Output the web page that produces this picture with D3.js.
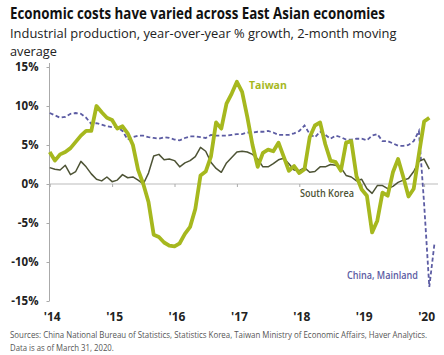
<!DOCTYPE html>
<html>
<head>
<meta charset="utf-8">
<script src="https://cdn.jsdelivr.net/npm/d3@7"></script>
<style>
  html, body { margin: 0; padding: 0; background: #fff; }
  svg { display: block; }
  text { font-family: "Open Sans", "Noto Sans", sans-serif; }
</style>
</head>
<body>
<svg id="chart" width="444" height="355"></svg>
<script>
// ---- Data (monthly, Jan 2014 = index 0) ----
const yearLabels = ["'14", "'15", "'16", "'17", "'18", "'19", "'20"];
const yTicks = [15, 10, 5, 0, -5, -10, -15];

const taiwan = [
  4.1, 3.0, 3.8, 4.1, 4.6, 5.4, 6.2, 6.8, 6.8, 10.0, 9.2, 8.5,
  8.2, 7.1, 7.4, 6.5, 5.0, 1.8, 0.0, -2.3, -6.5, -6.8, -7.5, -7.9,
  -8.0, -7.6, -6.4, -5.5, -3.2, 1.1, 1.6, 3.5, 7.9, 7.1, 10.3, 11.6,
  13.1, 11.8, 8.6, 5.0, 2.2, 4.0, 4.4, 4.2, 5.3, 3.5, 1.7, 2.3,
  1.4, 1.9, 6.0, 7.5, 7.9, 5.1, 3.0, 2.8, 1.7, 5.3, 5.5, 1.0,
  -0.7, -1.5, -6.2, -4.7, -1.1, -1.5, 1.5, 3.2, 0.9, -1.6, -0.6, 3.8,
  8.0, 8.5
];
const korea = [
  2.1, 1.9, 1.8, 2.4, 1.2, 1.6, 2.9, 2.2, 1.3, 0.6, 0.4, 0.9,
  0.3, 0.5, 1.2, 0.8, 0.9, 0.5, 0.0, 1.4, 3.6, 3.8, 3.1, 3.2,
  3.0, 2.2, 2.7, 3.0, 3.5, 4.7, 4.2, 2.8, 2.0, 1.5, 2.7, 3.4,
  4.1, 4.2, 4.1, 3.8, 3.2, 2.2, 2.2, 2.6, 3.1, 3.3, 2.6, 1.8,
  1.7, 2.1, 1.5, 1.6, 2.2, 2.2, 2.5, 2.4, 2.1, 1.1, 0.9, 0.4,
  0.6, -0.6, -1.2, -0.2, -0.2, -0.6, -0.3, 0.2, 0.5, 0.7, 1.6, 2.9,
  3.2, 1.9
];
const china = [
  9.1, 8.8, 8.5, 8.6, 9.0, 9.1, 9.0, 8.5, 7.7, 7.8, 7.6, 7.4,
  7.3, 7.3, 6.8, 5.7, 6.0, 6.2, 6.2, 6.0, 5.9, 5.8, 6.0, 5.9,
  5.7, 5.6, 5.9, 6.1, 6.1, 6.0, 5.9, 6.3, 6.2, 6.2, 6.2, 6.3,
  6.4, 6.4, 6.6, 6.6, 6.7, 6.7, 6.8, 6.6, 6.3, 6.3, 6.3, 6.5,
  6.8, 7.5, 6.4, 6.0, 6.7, 6.3, 5.8, 6.2, 6.0, 5.7, 5.7, 5.8,
  5.8, 5.6, 6.2, 6.4, 5.5, 5.5, 5.2, 4.9, 4.9, 5.0, 5.5, 6.8,
  -2.5, -13.2, -7.6
];

const colors = { taiwan: "#A6B81E", korea: "#4D5335", china: "#5C5CA3" };

const svg = d3.select("#chart");

// Horizontally condense a text to a target width (keeps it real text)
function fitText(x0, y0, width, str, attrs) {
  const t = svg.append("text").attr("x", 0).attr("y", 0).text(str);
  Object.entries(attrs).forEach(([k, v]) => t.attr(k, v));
  const len = t.node().getComputedTextLength();
  const s = width / len;
  t.attr("transform", `translate(${x0},${y0}) scale(${s},1)`);
  return t;
}

// ---- Scales ----
const x = d3.scaleLinear().domain([0, 72]).range([49.7, 424.1]);
const y = d3.scaleLinear().domain([-15, 15]).range([301, 67]);

// ---- Title & subtitle ----
fitText(10, 19, 375, "Economic costs have varied across East Asian economies",
  { "font-size": 16, "font-weight": 700, fill: "#111" });
fitText(10, 37.5, 387, "Industrial production, year-over-year % growth, 2-month moving",
  { "font-size": 13, fill: "#222" });
fitText(10, 55.5, 47, "average", { "font-size": 13, fill: "#222" });

// ---- Y axis ----
const yAxis = d3.axisLeft(y).tickValues(yTicks).tickSize(3)
  .tickFormat(d => d + "%");
const gy = svg.append("g").attr("transform", "translate(49.5,0)").call(yAxis);
gy.select(".domain").attr("stroke", "#aaa").attr("d", "M0,63V301");
gy.selectAll(".tick line").attr("stroke", "#aaa");
gy.selectAll(".tick text").attr("x", -11).attr("font-size", 11.5)
  .attr("font-weight", 700).attr("fill", "#222")
  .attr("font-family", "'Open Sans', sans-serif");

// ---- Zero line & X axis ----
const xAxis = d3.axisBottom(x).tickValues(d3.range(0, 73, 12)).tickSize(3)
  .tickFormat((d, i) => yearLabels[i]);
const gx = svg.append("g").attr("transform", `translate(0,${y(0)})`).call(xAxis);
gx.select(".domain").attr("stroke", "#bbb").attr("d", `M49.5,0H438`);
gx.selectAll(".tick line").attr("stroke", "#aaa");
gx.selectAll(".tick text").attr("y", 0).attr("dy", 0)
  .attr("transform", `translate(2,${321 - y(0)})`)
  .attr("font-size", 12).attr("font-weight", 700).attr("fill", "#222")
  .attr("font-family", "'Open Sans', sans-serif");

// ---- Lines ----
const line = d3.line().x((d, i) => x(i)).y(d => y(d)).curve(d3.curveLinear);

svg.append("path").datum(china).attr("d", line)
  .attr("fill", "none").attr("stroke", colors.china).attr("stroke-width", 1.8)
  .attr("stroke-dasharray", "4,2.5");
svg.append("path").datum(korea).attr("d", line)
  .attr("fill", "none").attr("stroke", colors.korea).attr("stroke-width", 1.5)
  .attr("stroke-linejoin", "round");
svg.append("path").datum(taiwan).attr("d", line)
  .attr("fill", "none").attr("stroke", colors.taiwan).attr("stroke-width", 3.8)
  .attr("stroke-linejoin", "round");

// ---- Series labels ----
svg.append("text").attr("x", 249).attr("y", 89)
  .attr("font-size", 10.5).attr("font-weight", 700).attr("fill", colors.taiwan)
  .text("Taiwan");
fitText(300, 197, 54, "South Korea",
  { "font-size": 10.5, "font-weight": 600, fill: colors.korea });
fitText(347, 279, 71, "China, Mainland",
  { "font-size": 10.5, "font-weight": 600, fill: colors.china });

// ---- Sources ----
fitText(10, 338, 418,
  "Sources: China National Bureau of Statistics, Statistics Korea, Taiwan Ministry of Economic Affairs, Haver Analytics.",
  { "font-size": 9.5, fill: "#555" });
fitText(10, 351, 104, "Data is as of March 31, 2020.",
  { "font-size": 9.5, fill: "#555" });
</script>
</body>
</html>
